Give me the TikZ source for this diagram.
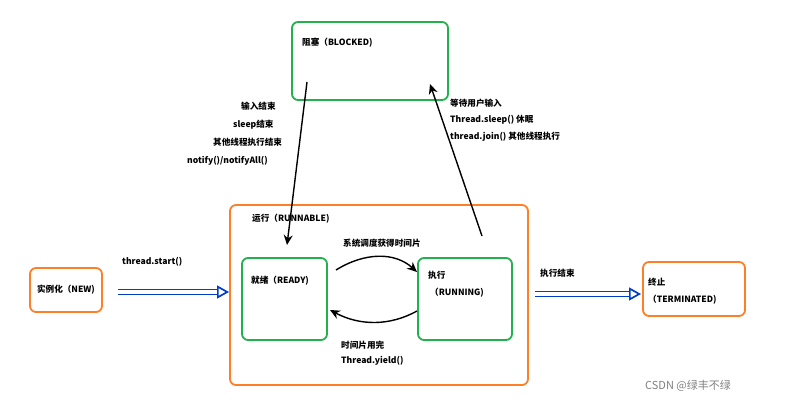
\documentclass[tikz,border=0pt]{standalone}
\usepackage{fontspec}
\setmainfont{Noto Sans CJK SC}
\usetikzlibrary{arrows.meta}
\begin{document}
\begin{tikzpicture}[x=1pt,y=-1pt,
  box/.style={draw=#1,line width=1.8pt,rounded corners=6pt},
  lbl/.style={font=\fontsize{8.6}{10}\selectfont\bfseries,inner sep=0pt},
  blk/.style={-{Stealth[length=10pt,width=9pt]},line width=1.4pt},
  big/.style={draw=blue!70!cyan!80!black,double=white,double distance=3.5pt,line width=1.7pt,-{Triangle[open,length=12pt,width=13pt]}}]
\useasboundingbox (0,0) rectangle (798,404);
\definecolor{gbox}{RGB}{34,177,76}
\definecolor{obox}{RGB}{255,127,39}
\node[box=gbox,minimum width=156pt,minimum height=78pt] (blocked) at (370,61) {};
\node[lbl,anchor=west] (tb) at (302,43) {阻塞（BLOCKED)};
\node[box=obox,minimum width=72pt,minimum height=44pt] (new) at (66,290) {};
\node[lbl] at (66,290) {实例化（NEW)};
\node[box=obox,minimum width=298pt,minimum height=180pt] (runnable) at (379,295) {};
\node[lbl,anchor=west] (tr) at (252,219) {运行（RUNNABLE)};
\node[box=gbox,minimum width=85pt,minimum height=82pt] (ready) at (284.5,299) {};
\node[lbl,anchor=west] at (251,281) {就绪（READY)};
\node[box=gbox,minimum width=94pt,minimum height=82pt] (running) at (465,299) {};
\node[lbl,anchor=west] at (428,275) {执行};
\node[lbl,anchor=west] at (430,293) {（RUNNING)};
\node[box=obox,minimum width=102pt,minimum height=54pt] (term) at (694,289) {};
\node[lbl,anchor=west] at (648,282) {终止};
\node[lbl,anchor=west] at (648,300) {（TERMINATED)};
% blue arrows
\coordinate (n1) at (118,292); \coordinate (n2) at (229,292);
\draw[big] (n1) -- (n2);
\coordinate (t1) at (535,294); \coordinate (t2) at (641,294);
\draw[big] (t1) -- (t2);
\node[lbl,anchor=west] at (122,262) {thread.start()};
\node[lbl,anchor=west] at (540,273) {执行结束};
% black arrows
\coordinate (b1) at (307,82); \coordinate (b2) at (287,245);
\draw[blk] (b1) -- (b2);
\coordinate (r1) at (482,236); \coordinate (r2) at (430,84);
\draw[blk] (r1) -- (r2);
\coordinate (c1) at (336,270); \coordinate (c2) at (417,272);
\draw[blk] (c1) .. controls (365,252) and (395,252) .. (c2);
\coordinate (d1) at (417,311); \coordinate (d2) at (330,310);
\draw[blk] (d1) .. controls (390,326) and (360,326) .. (d2);
% labels
\node[lbl,anchor=west] at (241,106) {输入结束};
\node[lbl,anchor=west] at (233,125) {sleep结束};
\node[lbl,anchor=west] at (213,142) {其他线程执行结束};
\node[lbl,anchor=west] at (187,161) {notify()/notifyAll()};
\node[lbl,anchor=west] at (450,103) {等待用户输入};
\node[lbl,anchor=west] at (450,120) {Thread.sleep() 休眠};
\node[lbl,anchor=west] at (450,137) {thread.join() 其他线程执行};
\node[lbl,anchor=west] at (343,243) {系统调度获得时间片};
\node[lbl,anchor=west] at (341,345) {时间片用完};
\node[lbl,anchor=west] at (341,361) {Thread.yield()};
\node[anchor=west,inner sep=0pt,text=gray,font=\fontsize{11}{12}\selectfont] at (645,386) {CSDN @绿丰不绿};
\end{tikzpicture}
\end{document}
